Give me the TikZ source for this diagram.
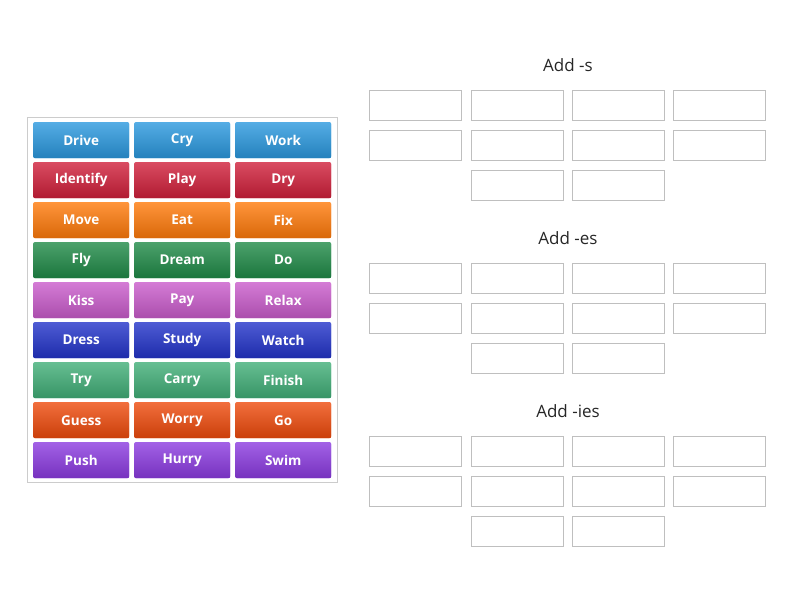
\documentclass[tikz,border=0pt]{standalone}
\usepackage{fontspec}
\setmainfont{Open Sans}
\newfontfamily\tilefont{Open Sans Bold}
\begin{document}
\begin{tikzpicture}[x=1pt,y=-1pt,
  tile/.style={rounded corners=2pt,minimum width=96pt,minimum height=36pt,inner sep=0pt,
     text=white,font=\tilefont\fontsize{13.5}{15}\selectfont,anchor=north west},
  slot/.style={draw=black!25,line width=0.8pt,minimum width=92pt,minimum height=30pt,inner sep=0pt,anchor=north west},
  ttl/.style={font=\fontsize{17}{20}\selectfont,text=black!85}]
\useasboundingbox (0,0) rectangle (800,600);
\definecolor{c1}{HTML}{2A98DE}\definecolor{c2}{HTML}{D01F3A}\definecolor{c3}{HTML}{FF7A0A}
\definecolor{c4}{HTML}{1F8A47}\definecolor{c5}{HTML}{C95BCB}\definecolor{c6}{HTML}{2233C9}
\definecolor{c7}{HTML}{40AE77}\definecolor{c8}{HTML}{EE4A0C}\definecolor{c9}{HTML}{8B3AE0}
\node[draw=black!20,line width=0.8pt,minimum width=310pt,minimum height=365pt,anchor=north west,inner sep=0pt] (frame) at (27,117) {};
\foreach \r/\c/\a/\b/\d in {0/c1/Drive/Cry/Work,1/c2/Identify/Play/Dry,2/c3/Move/Eat/Fix,3/c4/Fly/Dream/Do,4/c5/Kiss/Pay/Relax,5/c6/Dress/Study/Watch,6/c7/Try/Carry/Finish,7/c8/Guess/Worry/Go,8/c9/Push/Hurry/Swim}{
  \node[tile,fill=\c,top color=\c!80!white,bottom color=\c!85!black] (t\r a) at (33,122+40*\r) {\a};
  \node[tile,fill=\c,top color=\c!80!white,bottom color=\c!85!black] (t\r b) at (134,122+40*\r) {\b};
  \node[tile,fill=\c,top color=\c!80!white,bottom color=\c!85!black] (t\r c) at (235,122+40*\r) {\d};
}
\foreach \s/\t/\y in {0/Add -s/0,1/Add -es/173,2/Add -ies/346}{
  \node[ttl] (h\s) at (568,65+\y) {\t};
  \foreach \i/\x in {0/369,1/471,2/572,3/673}{
    \node[slot] (s\s a\i) at (\x,90+\y) {};
    \node[slot] (s\s b\i) at (\x,130+\y) {};
  }
  \node[slot] (s\s c1) at (471,170+\y) {};
  \node[slot] (s\s c2) at (572,170+\y) {};
}
\end{tikzpicture}
\end{document}
